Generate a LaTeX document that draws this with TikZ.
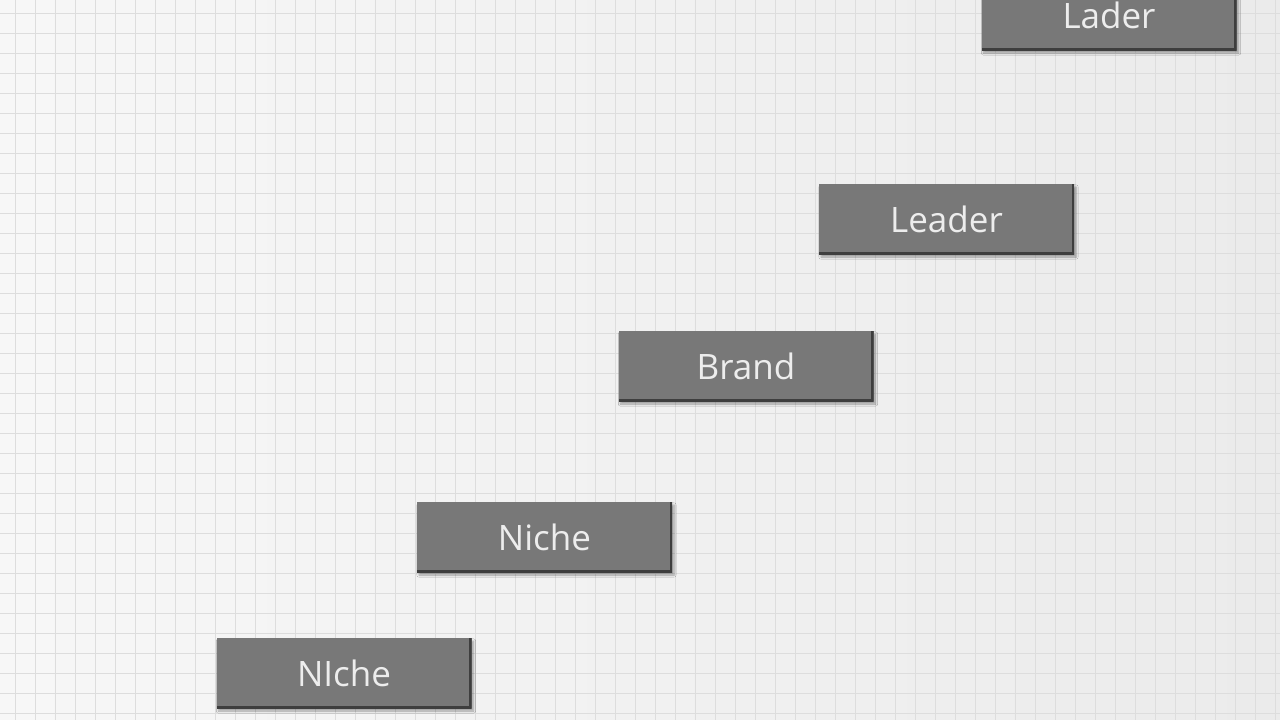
\documentclass[tikz,border=0pt]{standalone}
\usepackage{fontspec}
\setmainfont{Open Sans}
\usetikzlibrary{shadows.blur}
\definecolor{boxgray}{HTML}{787878}
\definecolor{boxedge}{HTML}{3E3E3E}
\definecolor{boxtext}{HTML}{EDEDED}
\definecolor{gridline}{HTML}{DDDDDD}
\definecolor{bgA}{HTML}{F7F7F7}
\definecolor{bgB}{HTML}{EBEBEB}
\tikzset{
  stepbox/.style={
    rectangle, fill=boxgray, minimum width=255pt, minimum height=70pt,
    inner sep=0pt, text=boxtext, font=\fontsize{35}{38}\selectfont,
    blur shadow={shadow xshift=2pt, shadow yshift=-3pt, shadow blur steps=6, shadow opacity=35},
    path picture={\draw[line width=5pt, boxedge]
      (path picture bounding box.north east) -- (path picture bounding box.south east)
      -- (path picture bounding box.south west);}
  },
  gridstyle/.style={gridline, line width=0.7pt}
}
\begin{document}
\begin{tikzpicture}[x=1pt,y=-1pt]
\useasboundingbox (0,0) rectangle (1280,720);
\shade[left color=bgA, right color=bgB] (0,0) rectangle (1280,720);
\foreach \gx in {15,35,...,1275} {\draw[gridstyle] (\gx,0) -- (\gx,720);}
\foreach \gy in {13,33,...,713} {\draw[gridstyle] (0,\gy) -- (1280,\gy);}
\node[stepbox] (lader) at (1109,15) {Lader};
\node[stepbox] (leader) at (946.5,219) {Leader};
\node[stepbox] (brand) at (746,366) {Brand};
\node[stepbox] (niche) at (544.5,537) {Niche};
\node[stepbox] (niche2) at (344,673) {NIche};
\end{tikzpicture}
\end{document}
